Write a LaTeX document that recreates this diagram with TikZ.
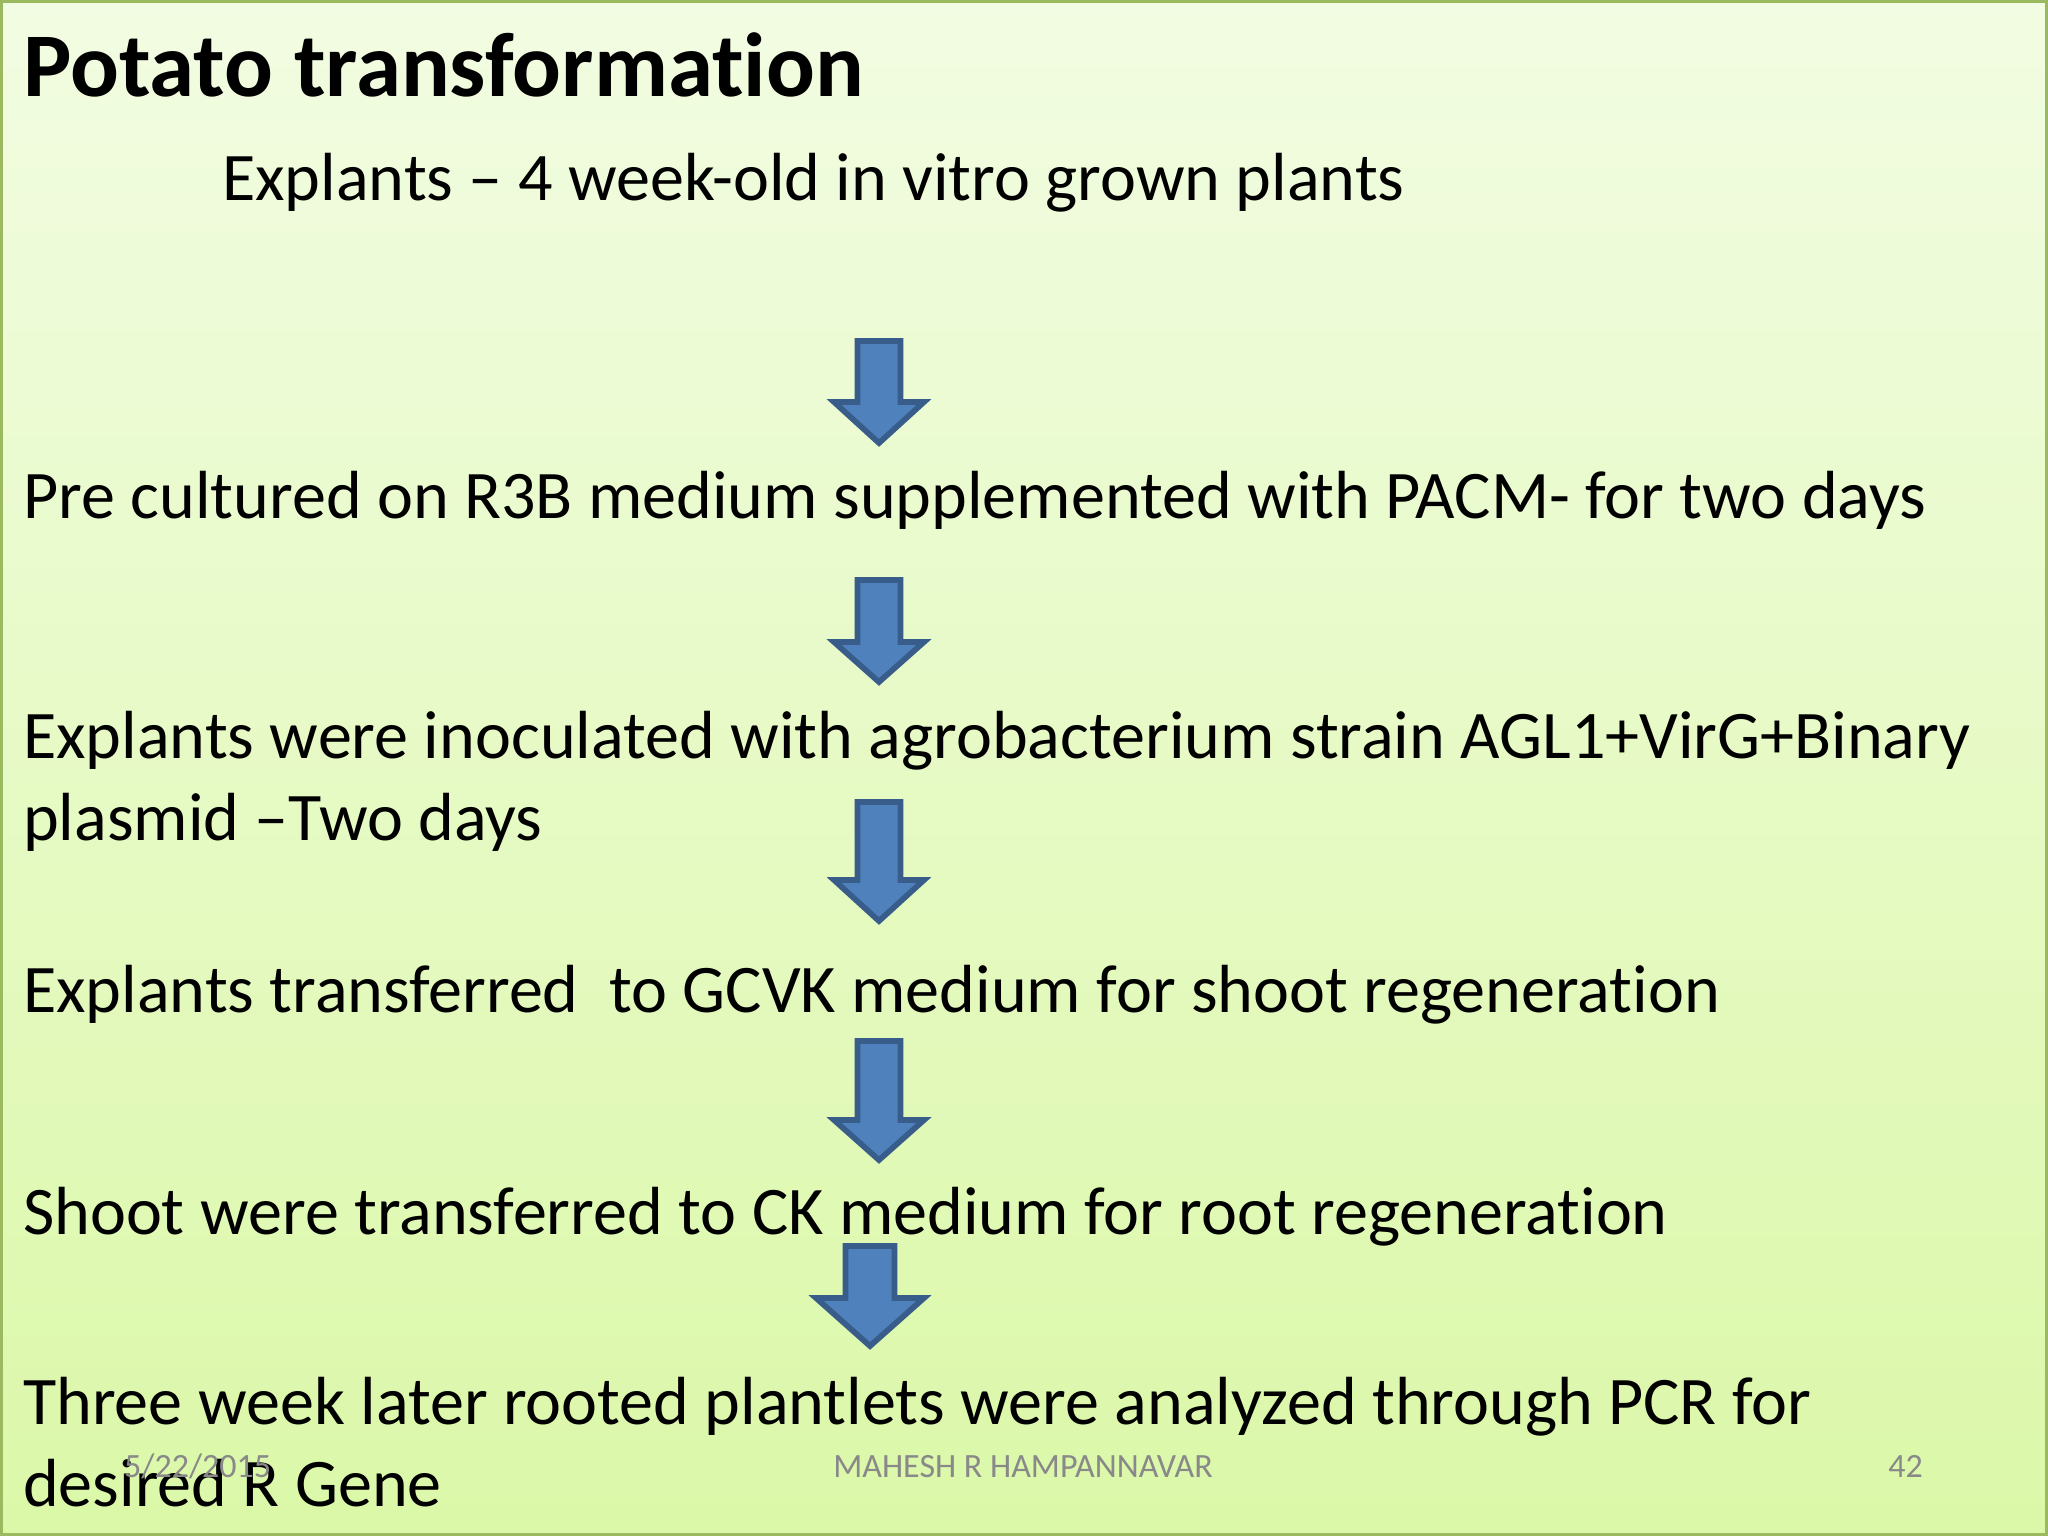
\documentclass[tikz,border=0pt]{standalone}
\usepackage{fontspec}
\setmainfont{Carlito}[Ligatures={TeX,NoCommon,NoContextual}]
\newcommand\bodyfnt{\fontsize{68.1}{82}\selectfont}
\newcommand\titlefnt{\fontsize{91}{110}\selectfont\bfseries}
\newcommand\footfnt{\fontsize{34}{40}\selectfont}
\definecolor{bgtop}{RGB}{242,252,226}
\definecolor{bgbot}{RGB}{219,248,168}
\definecolor{framec}{RGB}{155,185,95}
\definecolor{arrfill}{RGB}{79,129,189}
\definecolor{arrline}{RGB}{56,93,138}
\definecolor{footc}{RGB}{137,137,137}
\newcommand\dnarrow[7]{% name, cx, top, base, tip, half shaft, half head
  \draw[blockarr] (#2-#6,#3) -- (#2+#6,#3) -- (#2+#6,#4) -- (#2+#7,#4)
    -- (#2,#5) coordinate (#1) -- (#2-#7,#4) -- (#2-#6,#4) -- cycle;}
\begin{document}
\begin{tikzpicture}[x=1pt,y=-1pt,
  body/.style={anchor=base west, inner sep=0pt, font=\bodyfnt, text=black, align=left},
  titletext/.style={anchor=base west, inner sep=0pt, font=\titlefnt, text=black},
  foot/.style={inner sep=0pt, font=\footfnt, text=footc},
  blockarr/.style={fill=arrfill, draw=arrline, line width=5.7pt, miter limit=10}]
\useasboundingbox (0,0) rectangle (2048,1536);
\shade[top color=bgtop, bottom color=bgbot] (0,0) rectangle (2048,1536);
\draw[framec, line width=3pt] (1.5,1.5) rectangle (2046.5,1534.5);

\node[titletext] (title) at (23,97) {Potato transformation};
\node[body] (s0) at (222,200) {Explants – 4 week-old in vitro grown plants};
\node[body] (s1) at (23,518) {Pre cultured on R3B medium supplemented with PACM- for two days};
\node[body] (s2) at (23,840) {Explants were inoculated with agrobacterium strain AGL1+VirG+Binary\\plasmid –Two days};
\node[body] (s3) at (23,1012) {Explants transferred\ \ to GCVK medium for shoot regeneration};
\node[body] (s4) at (23,1234) {Shoot were transferred to CK medium for root regeneration};
\node[body] (s5) at (23,1506) {Three week later rooted plantlets were analyzed through PCR for\\desired R Gene};

\dnarrow{a1}{879}{341}{402}{443}{21.5}{45}
\dnarrow{a2}{879}{580}{642}{682}{21.5}{45}
\dnarrow{a3}{879}{802}{880}{921}{21.5}{45}
\dnarrow{a4}{879}{1041}{1120}{1160}{21.5}{45}
\dnarrow{a5}{870}{1246}{1298}{1346}{24.5}{54}

\node[foot, anchor=base west] (date) at (124,1477) {5/22/2015};
\node[foot, anchor=base] (author) at (1023,1477) {MAHESH R HAMPANNAVAR};
\node[foot, anchor=base east] (page) at (1923,1477) {42};
\end{tikzpicture}
\end{document}
